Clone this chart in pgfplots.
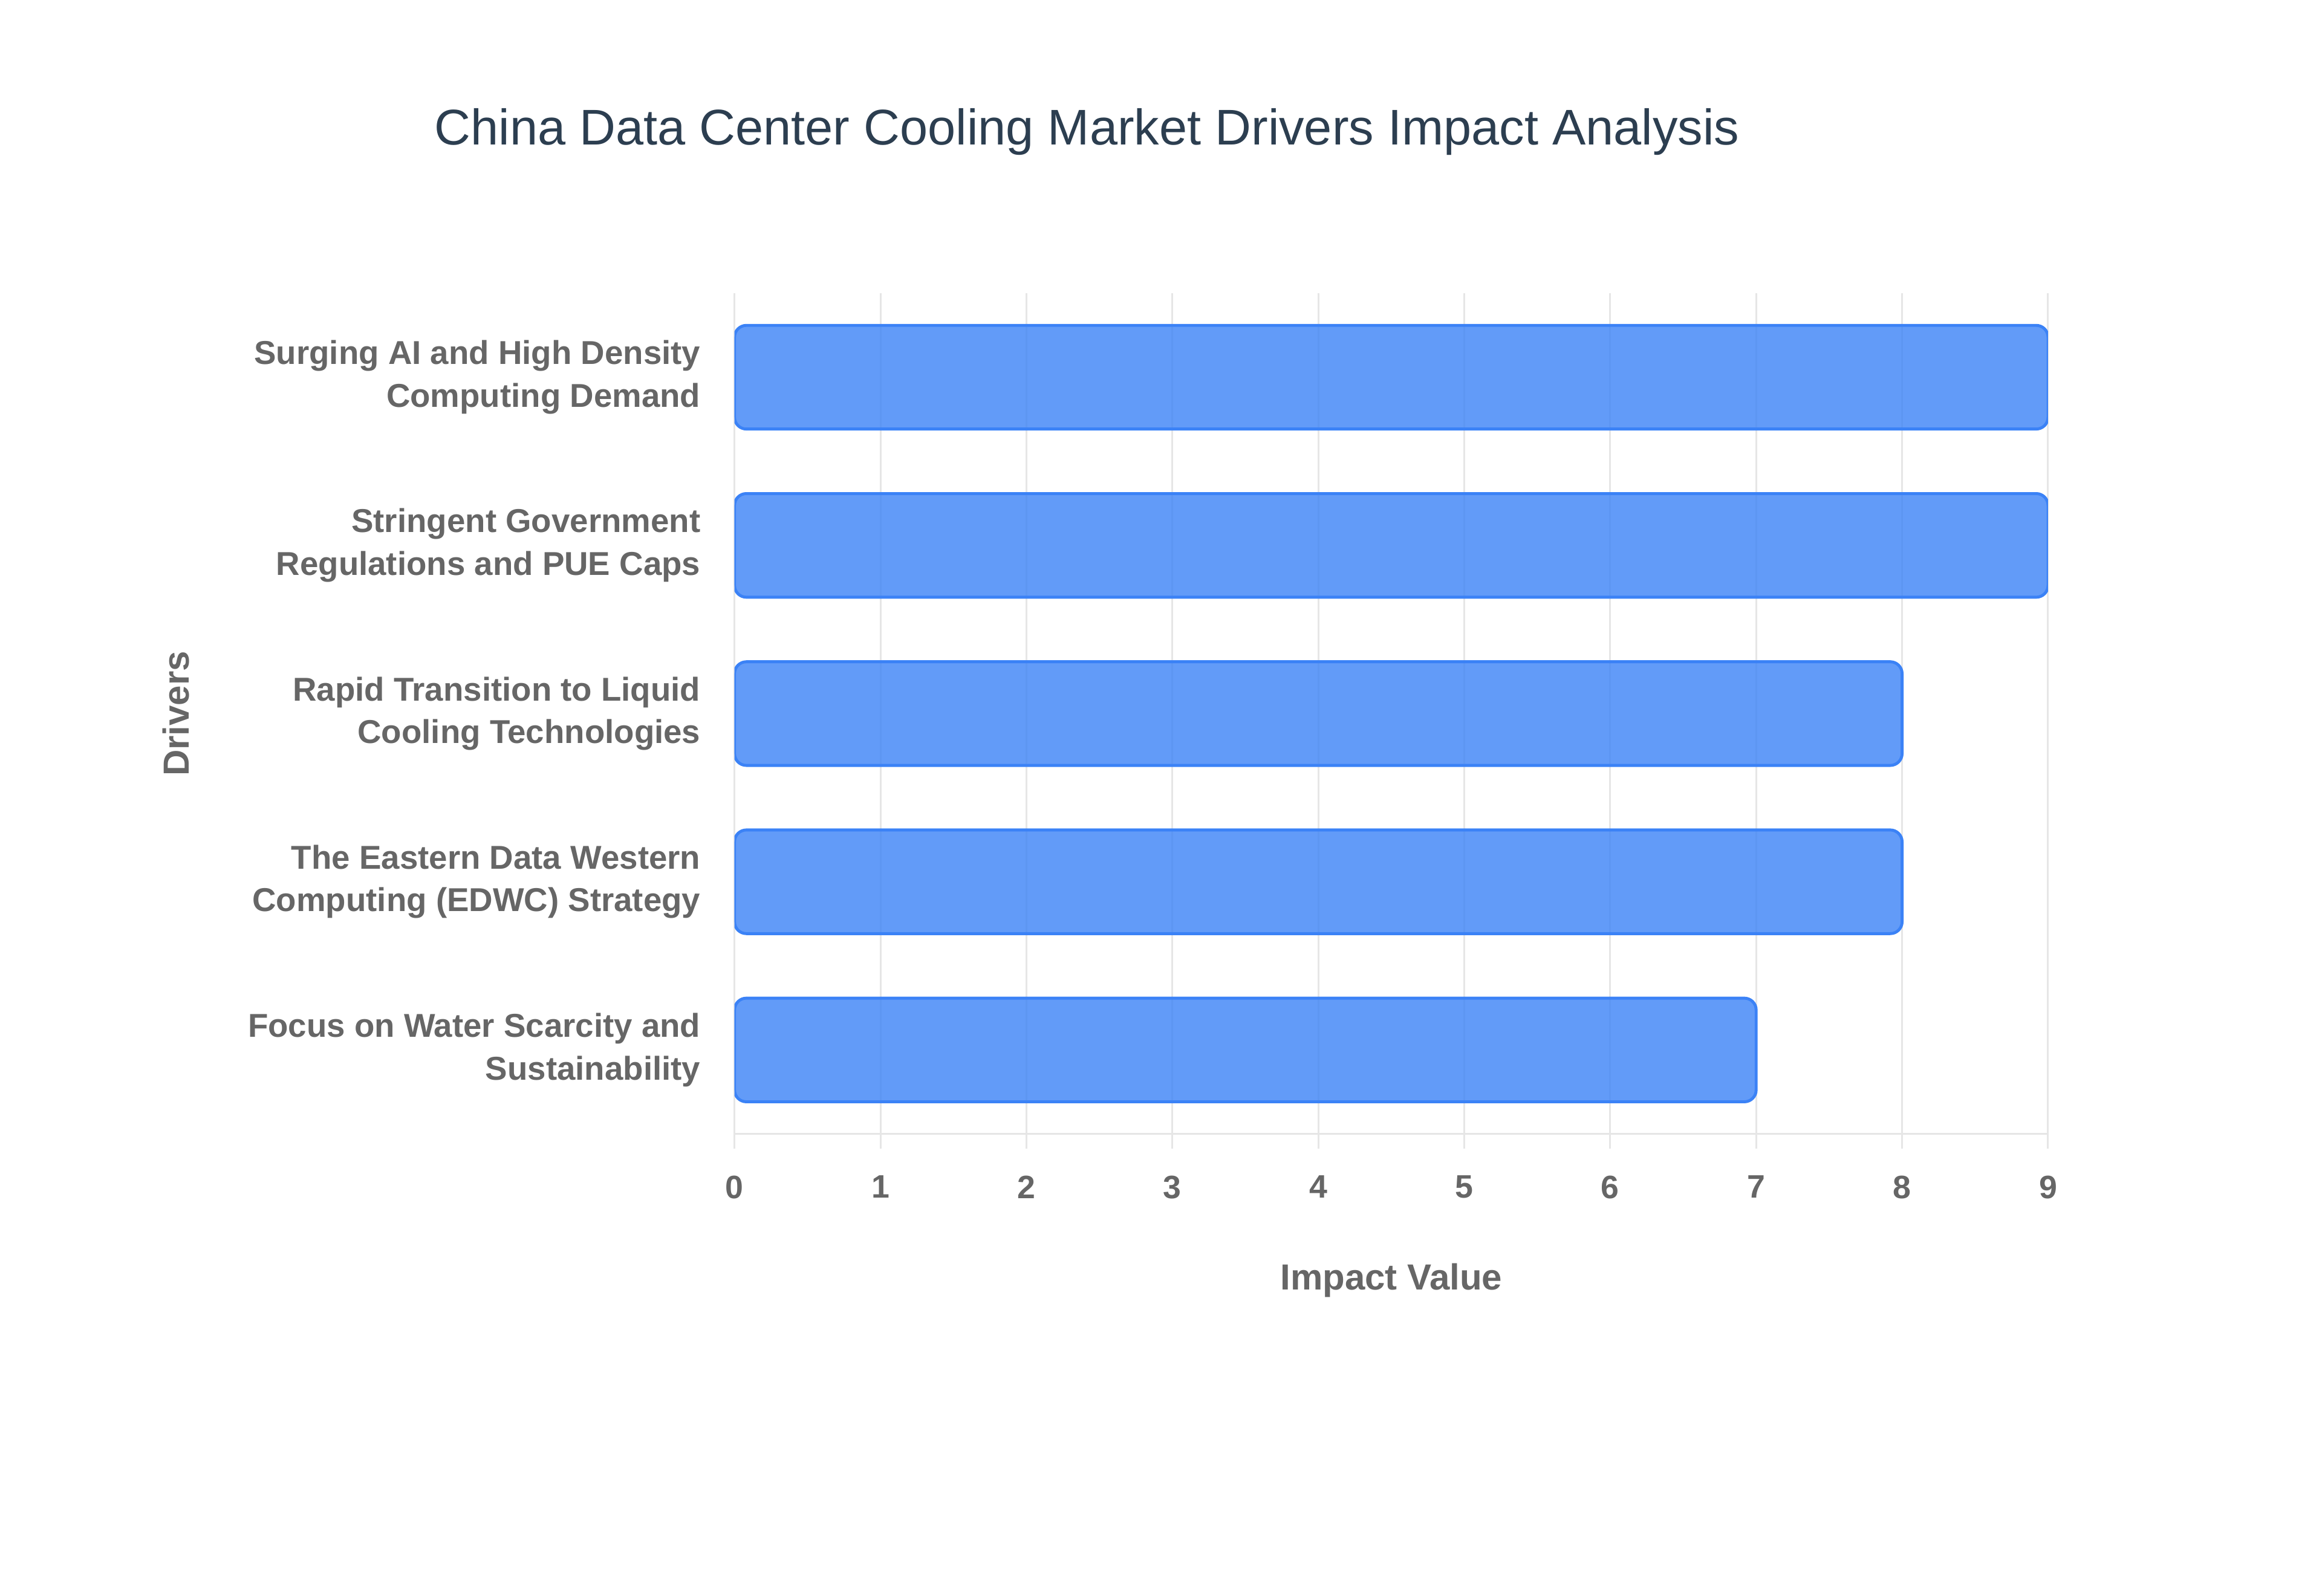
\documentclass[border=0pt]{standalone}
\usepackage{pgfplots}
\pgfplotsset{compat=1.18}
\usepackage{fontspec}
\setmainfont{Liberation Sans}
\definecolor{lab}{HTML}{666666}
\definecolor{ttl}{HTML}{2C3E50}
\definecolor{barc}{HTML}{3B82F6}
\definecolor{grd}{HTML}{E6E6E6}
\begin{document}
\begin{tikzpicture}[x=1bp,y=1bp]
\path[use as bounding box] (0,0) rectangle (784,539);
\node[text=ttl, font=\fontsize{17}{20}\selectfont] at (367,494.5) {China Data Center Cooling Market Drivers Impact Analysis};
\begin{axis}[
  at={(248bp,156bp)}, anchor=south west,
  scale only axis, width=443.5bp, height=284bp,
  xbar, bar width=35bp,
  xmin=0, xmax=9, ymin=-0.5, ymax=4.5,
  y dir=reverse,
  xtick={0,1,2,3,4,5,6,7,8,9},
  ytick={0,1,2,3,4},
  yticklabels={{Surging AI and High Density\\Computing Demand},
               {Stringent Government\\Regulations and PUE Caps},
               {Rapid Transition to Liquid\\Cooling Technologies},
               {The Eastern Data Western\\Computing (EDWC) Strategy},
               {Focus on Water Scarcity and\\Sustainability}},
  yticklabel style={align=right, font=\bfseries\fontsize{11.2}{14.5}\selectfont, text=lab, xshift=-3bp},
  xticklabel style={font=\bfseries\fontsize{11}{13}\selectfont, text=lab, yshift=-5.5bp},
  /pgf/number format/assume math mode=true,
  xmajorgrids, major grid style={grd, line width=0.6bp},
  xtick align=outside, major tick length=5bp,
  xtick style={grd, line width=0.6bp},
  ytick style={draw=none},
  axis x line*=bottom, axis y line*=left,
  x axis line style={grd, line width=0.6bp, -},
  y axis line style={draw=none},
  xlabel={Impact Value}, ylabel={Drivers},
  xlabel style={font=\bfseries\fontsize{12.3}{14}\selectfont, text=lab, at={(axis description cs:0.5,-0.1743)}, anchor=center},
  ylabel style={font=\bfseries\fontsize{12.3}{14}\selectfont, text=lab, at={(axis description cs:-0.425,0.5)}, anchor=center},
]
\addplot[draw=barc, line width=1bp, fill=barc, fill opacity=0.8, rounded corners=4bp]
  coordinates {(9,0) (9,1) (8,2) (8,3) (7,4)};
\end{axis}
\end{tikzpicture}
\end{document}
